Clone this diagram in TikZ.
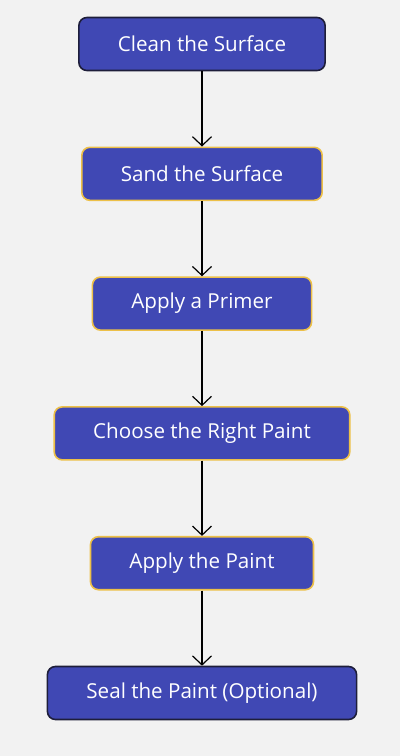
\documentclass[tikz,border=0pt]{standalone}
\usepackage{fontspec}
\setmainfont{Open Sans}
\usepackage{xcolor}
\usetikzlibrary{positioning, arrows.meta}

\definecolor{boxfill}{HTML}{4048B4}
\definecolor{darkline}{HTML}{1E1E3A}
\definecolor{goldline}{HTML}{EDC048}
\definecolor{pagegrey}{HTML}{F2F2F2}

\tikzset{
  stepbox/.style={rectangle, rounded corners=4pt, fill=boxfill, text=white,
    minimum height=26.5pt, inner xsep=19.5pt, line width=0.8pt,
    font=\fontsize{10.3}{12}\selectfont},
  endbox/.style={stepbox, draw=darkline},
  midbox/.style={stepbox, draw=goldline},
  flow/.style={draw=black, line width=0.6pt, -{Straight Barb[length=4.5pt, width=9.5pt]}}
}

\begin{document}
\begin{tikzpicture}[on grid, node distance=64.9pt]
  \fill[pagegrey] (0,0) rectangle (200pt,-378pt);
  \useasboundingbox (0,0) rectangle (200pt,-378pt);

  \node[endbox] (clean) at (101pt,-22pt) {Clean the Surface};
  \node[midbox, below=of clean] (sand) {Sand the Surface};
  \node[midbox, below=of sand] (primer) {Apply a Primer};
  \node[midbox, below=of primer] (choose) {Choose the Right Paint};
  \node[midbox, below=of choose] (apply) {Apply the Paint};
  \node[endbox, below=of apply] (seal) {Seal the Paint (Optional)};

  \draw[flow] (clean) -- (sand);
  \draw[flow] (sand) -- (primer);
  \draw[flow] (primer) -- (choose);
  \draw[flow] (choose) -- (apply);
  \draw[flow] (apply) -- (seal);
\end{tikzpicture}
\end{document}
